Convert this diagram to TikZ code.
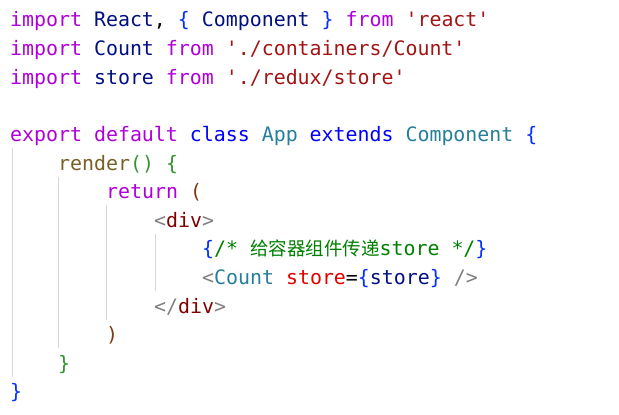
\documentclass[tikz,border=0pt]{standalone}
\usepackage{fontspec}
\newfontfamily\code{DejaVu Sans Mono}
\newfontfamily\cjk{Noto Sans CJK SC}
\definecolor{kw}{HTML}{AF00DB}
\definecolor{bl}{HTML}{0000FF}
\definecolor{ty}{HTML}{267F99}
\definecolor{vr}{HTML}{001080}
\definecolor{st}{HTML}{A31515}
\definecolor{fn}{HTML}{795E26}
\definecolor{gr}{HTML}{319331}
\definecolor{br}{HTML}{7B3814}
\definecolor{tg}{HTML}{800000}
\definecolor{gy}{HTML}{808080}
\definecolor{cm}{HTML}{008000}
\definecolor{at}{HTML}{E50000}
\definecolor{bb}{HTML}{0431FA}
\definecolor{guide}{HTML}{D8D8D8}
\newcommand\K[1]{\textcolor{kw}{#1}}
\newcommand\B[1]{\textcolor{bl}{#1}}
\newcommand\T[1]{\textcolor{ty}{#1}}
\newcommand\V[1]{\textcolor{vr}{#1}}
\newcommand\Str[1]{\textcolor{st}{#1}}
\tikzset{ln/.style={anchor=base west,inner sep=0pt,font=\code\fontsize{19.9}{20}\selectfont},
 gd/.style={guide,line width=1pt}}
\begin{document}
\begin{tikzpicture}[x=1pt,y=-1pt]
\useasboundingbox[fill=white] (0,0) rectangle (619,415);
\def\Y#1{\fpeval{27+28.6*#1}}
\draw[gd] (12,148) -- (12,377);
\draw[gd] (58,177) -- (58,348);
\draw[gd] (106,205) -- (106,320);
\draw[gd] (155,234) -- (155,291);
\node[ln] (l0) at (10,\Y{0}) {\K{import} \V{React}, \textcolor{bb}{\{} \V{Component} \textcolor{bb}{\}} \K{from} \Str{'react'}};
\node[ln] (l1) at (10,\Y{1}) {\K{import} \V{Count} \K{from} \Str{'./containers/Count'}};
\node[ln] (l2) at (10,\Y{2}) {\K{import} \V{store} \K{from} \Str{'./redux/store'}};
\node[ln] (l4) at (10,\Y{4}) {\K{export} \K{default} \B{class} \T{App} \B{extends} \T{Component} \textcolor{bb}{\{}};
\node[ln] (l5) at (58,\Y{5}) {\textcolor{fn}{render}\textcolor{gr}{() \{}};
\node[ln] (l6) at (106,\Y{6}) {\K{return} \textcolor{br}{(}};
\node[ln] (l7) at (154,\Y{7}) {\textcolor{gy}{<}\textcolor{tg}{div}\textcolor{gy}{>}};
\node[ln] (l8) at (202,\Y{8}) {\textcolor{bb}{\{}\textcolor{cm}{/* {\cjk\fontsize{18.5}{18.5}\selectfont 给容器组件传递}store */}\textcolor{bb}{\}}};
\node[ln] (l9) at (202,\Y{9}) {\textcolor{gy}{<}\T{Count} \textcolor{at}{store}=\textcolor{bb}{\{}\V{store}\textcolor{bb}{\}} \textcolor{gy}{/>}};
\node[ln] (l10) at (154,\Y{10}) {\textcolor{gy}{</}\textcolor{tg}{div}\textcolor{gy}{>}};
\node[ln] (l11) at (106,\Y{11}) {\textcolor{br}{)}};
\node[ln] (l12) at (58,\Y{12}) {\textcolor{gr}{\}}};
\node[ln] (l13) at (10,\Y{13}) {\textcolor{bb}{\}}};
\end{tikzpicture}
\end{document}
